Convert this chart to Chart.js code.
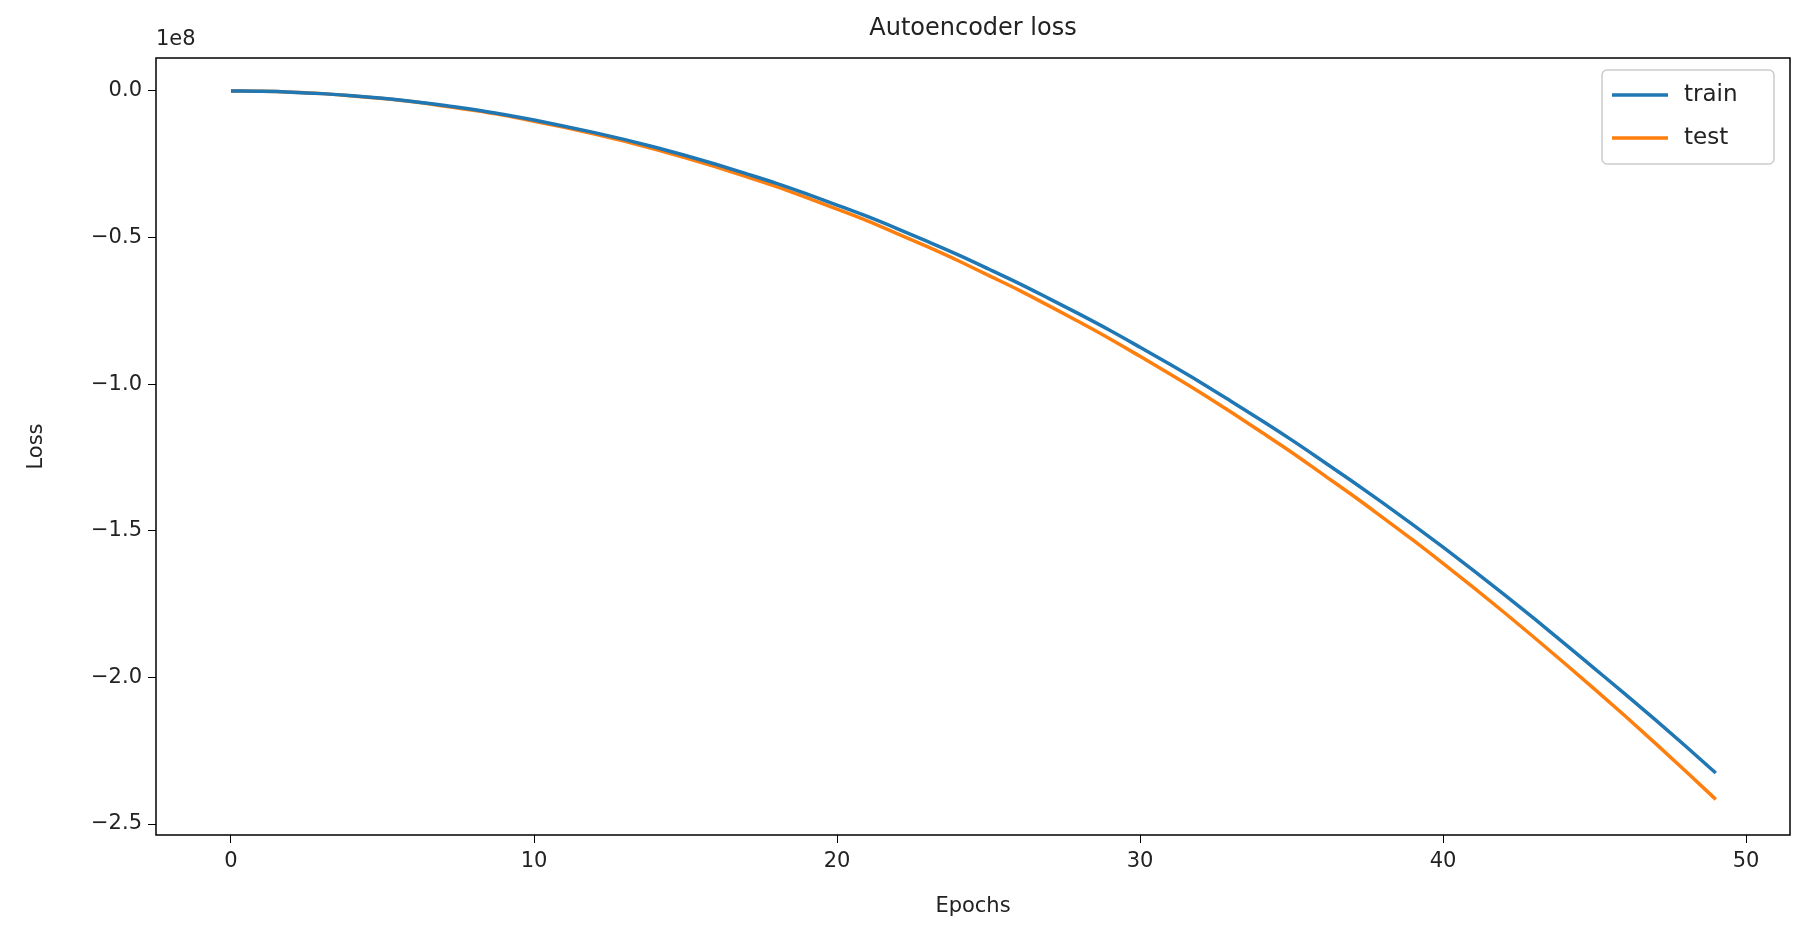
<!DOCTYPE html>
<html>
<head>
<meta charset="utf-8">
<script src="https://cdn.jsdelivr.net/npm/chart.js@4/dist/chart.umd.min.js"></script>
<style>body{margin:0;background:#fff}</style>
</head>
<body>
<canvas id="c" width="1804" height="940"></canvas>
<script>
// loss values in units of 1e6
const epochs = Array.from({length: 50}, (_, i) => i);
const trainLoss = [0,0.1,0.4,0.9,1.6,2.5,3.6,4.9,6.3,8.0,9.9,12.0,14.2,16.6,19.2,22.0,25.0,28.2,31.5,35.1,38.9,42.8,47.0,51.4,55.9,60.7,65.6,70.8,76.1,81.6,87.4,93.3,99.4,105.8,112.3,119.0,126.0,133.1,140.4,147.9,155.6,163.5,171.6,179.9,188.4,197.0,205.6,214.4,223.4,232.6];
const testLoss = [0,0.1,0.4,0.9,1.7,2.6,3.7,5.1,6.6,8.3,10.3,12.4,14.7,17.2,19.9,22.8,25.9,29.2,32.6,36.4,40.3,44.3,48.7,53.2,57.9,62.9,67.9,73.3,78.8,84.5,90.5,96.6,102.9,109.5,116.3,123.2,130.5,137.8,145.4,153.1,161.1,169.3,177.7,186.3,195.1,204.0,213.1,222.4,231.9,241.6];
const xTicks = [0, 10, 20, 30, 40, 50];
const yTicks = [0, -0.5e8, -1e8, -1.5e8, -2e8, -2.5e8];

const FONT = 'DejaVu Sans';
const mk = (arr) => epochs.map((e, i) => ({x: e, y: -arr[i] * 1e6}));

const decor = {
  id: 'decor',
  afterDraw(chart) {
    const {ctx, chartArea: a} = chart;
    ctx.save();
    ctx.strokeStyle = '#000'; ctx.lineWidth = 1.5;
    ctx.strokeRect(a.left, a.top, a.right - a.left, a.bottom - a.top);
    ctx.fillStyle = '#222';
    ctx.font = '24px ' + FONT; ctx.textAlign = 'center'; ctx.textBaseline = 'middle';
    ctx.fillText('Autoencoder loss', (a.left + a.right) / 2, 29);
    ctx.font = '21px ' + FONT;
    ctx.fillText('Epochs', (a.left + a.right) / 2, 907);
    ctx.textAlign = 'left';
    ctx.fillText('1e8', 156, 40);
    ctx.save(); ctx.translate(37, (a.top + a.bottom) / 2); ctx.rotate(-Math.PI / 2);
    ctx.textAlign = 'center'; ctx.fillText('Loss', 0, 0); ctx.restore();
    // legend
    const bx = 1602, by = 70, bw = 172, bh = 94;
    ctx.fillStyle = 'rgba(255,255,255,0.85)';
    ctx.strokeStyle = '#ccc'; ctx.lineWidth = 1.5;
    ctx.beginPath(); ctx.roundRect(bx, by, bw, bh, 5); ctx.fill(); ctx.stroke();
    chart.data.datasets.forEach((ds, i) => {
      const y = by + 25 + i * 43;
      ctx.strokeStyle = ds.borderColor; ctx.lineWidth = 3.5;
      ctx.beginPath(); ctx.moveTo(bx + 10, y); ctx.lineTo(bx + 66, y); ctx.stroke();
      ctx.fillStyle = '#222'; ctx.font = '23px ' + FONT; ctx.textAlign = 'left';
      ctx.fillText(ds.label, bx + 82, y);
    });
    ctx.restore();
  }
};

new Chart(document.getElementById('c'), {
  type: 'line',
  data: {
    datasets: [
      {label: 'train', data: mk(trainLoss), borderColor: '#1f77b4', borderWidth: 3.5, pointRadius: 0, cubicInterpolationMode: 'monotone'},
      {label: 'test', data: mk(testLoss), borderColor: '#ff7f0e', borderWidth: 3.5, pointRadius: 0, cubicInterpolationMode: 'monotone'}
    ]
  },
  options: {
    responsive: false,
    animation: false,
    layout: {padding: {top: 58, right: 14, left: 0, bottom: 0}},
    plugins: {legend: {display: false}, tooltip: {enabled: false}},
    scales: {
      x: {
        type: 'linear', min: -2.475, max: 51.45,
        afterBuildTicks: (s) => { s.ticks = xTicks.map(v => ({value: v})); },
        afterFit: (s) => { s.height = 105; },
        grid: {drawOnChartArea: false, color: '#000', tickLength: 8},
        border: {display: false},
        ticks: {color: '#222', font: {family: FONT, size: 21}, padding: 6, maxRotation: 0}
      },
      y: {
        min: -2.5375e8, max: 0.1125e8,
        afterBuildTicks: (s) => { s.ticks = yTicks.map(v => ({value: v})); },
        afterFit: (s) => { s.width = 156; },
        grid: {drawOnChartArea: false, color: '#000', tickLength: 8},
        border: {display: false},
        ticks: {color: '#222', font: {family: FONT, size: 21}, padding: 6,
          callback: (v) => (v / 1e8).toFixed(1).replace('-', '\u2212')}
      }
    }
  },
  plugins: [decor]
});
</script>
</body>
</html>
